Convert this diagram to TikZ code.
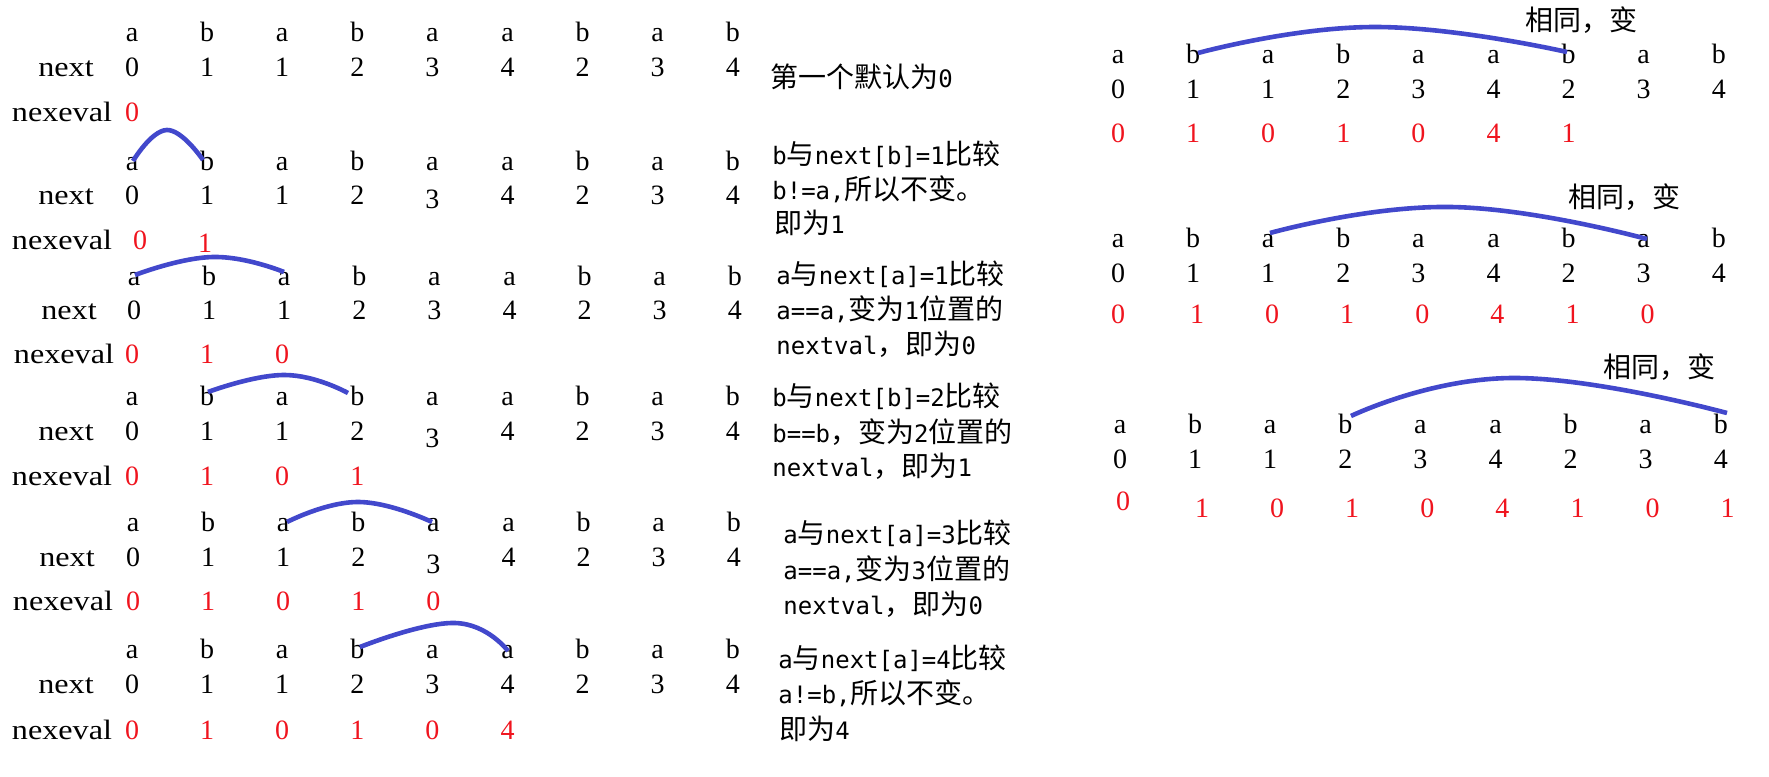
\documentclass[tikz,border=0pt]{standalone}
\usepackage{fontspec}
\setmainfont{Liberation Serif}
\newfontfamily\cjk{Noto Sans CJK SC}
\newfontfamily\mono{DejaVu Sans Mono}
\definecolor{arcblue}{RGB}{66,72,204}
\definecolor{valred}{RGB}{240,20,30}
\newcommand\zh[1]{{\cjk\fontsize{14}{16}\selectfont #1}}
\newcommand\letterrow[3]{% prefix, x0, y
  \foreach \t [count=\i from 0] in {a,b,a,b,a,a,b,a,b}
    {\node[tab] (#1-\i) at ({#2+75.1*\i},#3) {\t};}}
\newcommand\nextrow[4]{% prefix, x0, y, dy of the 3
  \foreach \t [count=\i from 0] in {0,1,1,2,3,4,2,3,4}{
    \pgfmathsetmacro\yy{(\i==4) ? #3+#4 : #3}
    \node[tab] (#1-\i) at ({#2+75.1*\i},\yy) {\t};}}
\newcommand\valrow[4]{% prefix, x0, y, list
  \foreach \t [count=\i from 0] in {#4}
    {\node[val] (#1-\i) at ({#2+75.1*\i},#3) {\t};}}
\begin{document}
\begin{tikzpicture}[x=0.5pt,y=-0.5pt,
  tab/.style={font=\fontsize{14}{14}\selectfont, inner sep=0pt, anchor=base},
  val/.style={tab, text=valred},
  lbl/.style={tab},
  note/.style={inner sep=0pt, anchor=west, font=\fontsize{12}{14}\selectfont\mono},
  head/.style={inner sep=0pt, anchor=base west, font=\fontsize{14}{16}\selectfont\cjk},
  arcline/.style={draw=arcblue, line width=2.3pt}
]
\useasboundingbox (0,0) rectangle (1769,777);
\fill[white] (0,0) rectangle (1769,777);

% ---------- left panel ----------
% block 1
\letterrow{l1}{132}{41.5}
\nextrow{n1}{132}{76.7}{0}
\valrow{v1}{132}{121.7}{0}
\node[lbl] (next1) at (66,76.7) {\scalebox{1.15}[1]{next}};
\node[lbl] (nv1) at (62,121.7) {\scalebox{1.15}[1]{nexeval}};
\node[note] (t1a) at (770,77) {\zh{第一个默认为}0};

% block 2
\letterrow{l2}{132}{170}
\nextrow{n2}{132}{204}{4}
\node[val] (v2-0) at (140,249) {0};
\node[val] (v2-1) at (205,252) {1};
\node[lbl] (next2) at (66,204) {\scalebox{1.15}[1]{next}};
\node[lbl] (nv2) at (62,249) {\scalebox{1.15}[1]{nexeval}};
\node[note] (t2a) at (772,154) {b\zh{与}next[b]=1\zh{比较}};
\node[note] (t2b) at (772,189) {b!=a,\zh{所以不变。}};
\node[note] (t2c) at (774,223) {\zh{即为}1};
\coordinate (s2) at (133,161); \coordinate (p2) at (167,130); \coordinate (e2) at (203,160);
\draw[arcline] plot[smooth, tension=0.8] coordinates {(s2) (p2) (e2)};

% block 3
\letterrow{l3}{134}{285}
\nextrow{n3}{134}{319}{0}
\valrow{v3}{132}{363}{0,1,0}
\node[lbl] (next3) at (69,319) {\scalebox{1.15}[1]{next}};
\node[lbl] (nv3) at (64,363) {\scalebox{1.15}[1]{nexeval}};
\node[note] (t3a) at (776,274) {a\zh{与}next[a]=1\zh{比较}};
\node[note] (t3b) at (776,309) {a==a,\zh{变为}1\zh{位置的}};
\node[note] (t3c) at (776,344) {nextval\zh{，即为}0};
\coordinate (s3) at (135,275); \coordinate (p3) at (213,257); \coordinate (e3) at (284,272);
\draw[arcline] plot[smooth, tension=0.8] coordinates {(s3) (p3) (e3)};

% block 4
\letterrow{l4}{132}{405}
\nextrow{n4}{132}{440}{7}
\valrow{v4}{132}{485}{0,1,0,1}
\node[lbl] (next4) at (66,440) {\scalebox{1.15}[1]{next}};
\node[lbl] (nv4) at (62,485) {\scalebox{1.15}[1]{nexeval}};
\node[note] (t4a) at (772,396) {b\zh{与}next[b]=2\zh{比较}};
\node[note] (t4b) at (772,432) {b==b\zh{，变为}2\zh{位置的}};
\node[note] (t4c) at (772,466) {nextval\zh{，即为}1};
\coordinate (s4) at (208,392); \coordinate (p4) at (285,375); \coordinate (e4) at (348,393);
\draw[arcline] plot[smooth, tension=0.8] coordinates {(s4) (p4) (e4)};

% block 5
\letterrow{l5}{133}{531}
\nextrow{n5}{133}{566}{7}
\valrow{v5}{133}{610}{0,1,0,1,0}
\node[lbl] (next5) at (67,566) {\scalebox{1.15}[1]{next}};
\node[lbl] (nv5) at (63,610) {\scalebox{1.15}[1]{nexeval}};
\node[note] (t5a) at (783,533) {a\zh{与}next[a]=3\zh{比较}};
\node[note] (t5b) at (783,569) {a==a,\zh{变为}3\zh{位置的}};
\node[note] (t5c) at (783,604) {nextval\zh{，即为}0};
\coordinate (s5) at (287,522); \coordinate (p5) at (358,502); \coordinate (e5) at (432,522);
\draw[arcline] plot[smooth, tension=0.8] coordinates {(s5) (p5) (e5)};

% block 6
\letterrow{l6}{132}{658}
\nextrow{n6}{132}{693}{0}
\valrow{v6}{132}{739}{0,1,0,1,0,4}
\node[lbl] (next6) at (66,693) {\scalebox{1.15}[1]{next}};
\node[lbl] (nv6) at (62,739) {\scalebox{1.15}[1]{nexeval}};
\node[note] (t6a) at (778,658) {a\zh{与}next[a]=4\zh{比较}};
\node[note] (t6b) at (778,693) {a!=b,\zh{所以不变。}};
\node[note] (t6c) at (779,729) {\zh{即为}4};
\coordinate (s6) at (360,647); \coordinate (p6) at (455,623); \coordinate (e6) at (508,651);
\draw[arcline] plot[smooth, tension=0.8] coordinates {(s6) (p6) (e6)};

% ---------- right panel ----------
% R1
\node[head] (h1) at (1525,30) {相同，变};
\letterrow{rl1}{1118}{63}
\nextrow{rn1}{1118}{98}{0}
\valrow{rv1}{1118}{142}{0,1,0,1,0,4,1}
\coordinate (rs1) at (1198,53); \coordinate (rp1) at (1374,27); \coordinate (re1) at (1567,52);
\draw[arcline] plot[smooth, tension=0.8] coordinates {(rs1) (rp1) (re1)};

% R2
\node[head] (h2) at (1568,207) {相同，变};
\letterrow{rl2}{1118}{247}
\nextrow{rn2}{1118}{282}{0}
\node[val] (rv2-0) at (1118,323) {0};
\valrow{rv2}{1197}{323}{1,0,1,0,4,1,0}
\coordinate (rs2) at (1270,233); \coordinate (rp2) at (1451,207); \coordinate (re2) at (1647,239);
\draw[arcline] plot[smooth, tension=0.8] coordinates {(rs2) (rp2) (re2)};

% R3
\node[head] (h3) at (1603,377) {相同，变};
\letterrow{rl3}{1120}{433}
\nextrow{rn3}{1120}{468}{0}
\node[val] (rv3-0) at (1123,510) {0};
\valrow{rv3}{1202}{517}{1,0,1,0,4,1,0,1}
\coordinate (rs3) at (1351,416); \coordinate (rp3) at (1512,378); \coordinate (re3) at (1727,413);
\draw[arcline] plot[smooth, tension=0.8] coordinates {(rs3) (rp3) (re3)};
\end{tikzpicture}
\end{document}
